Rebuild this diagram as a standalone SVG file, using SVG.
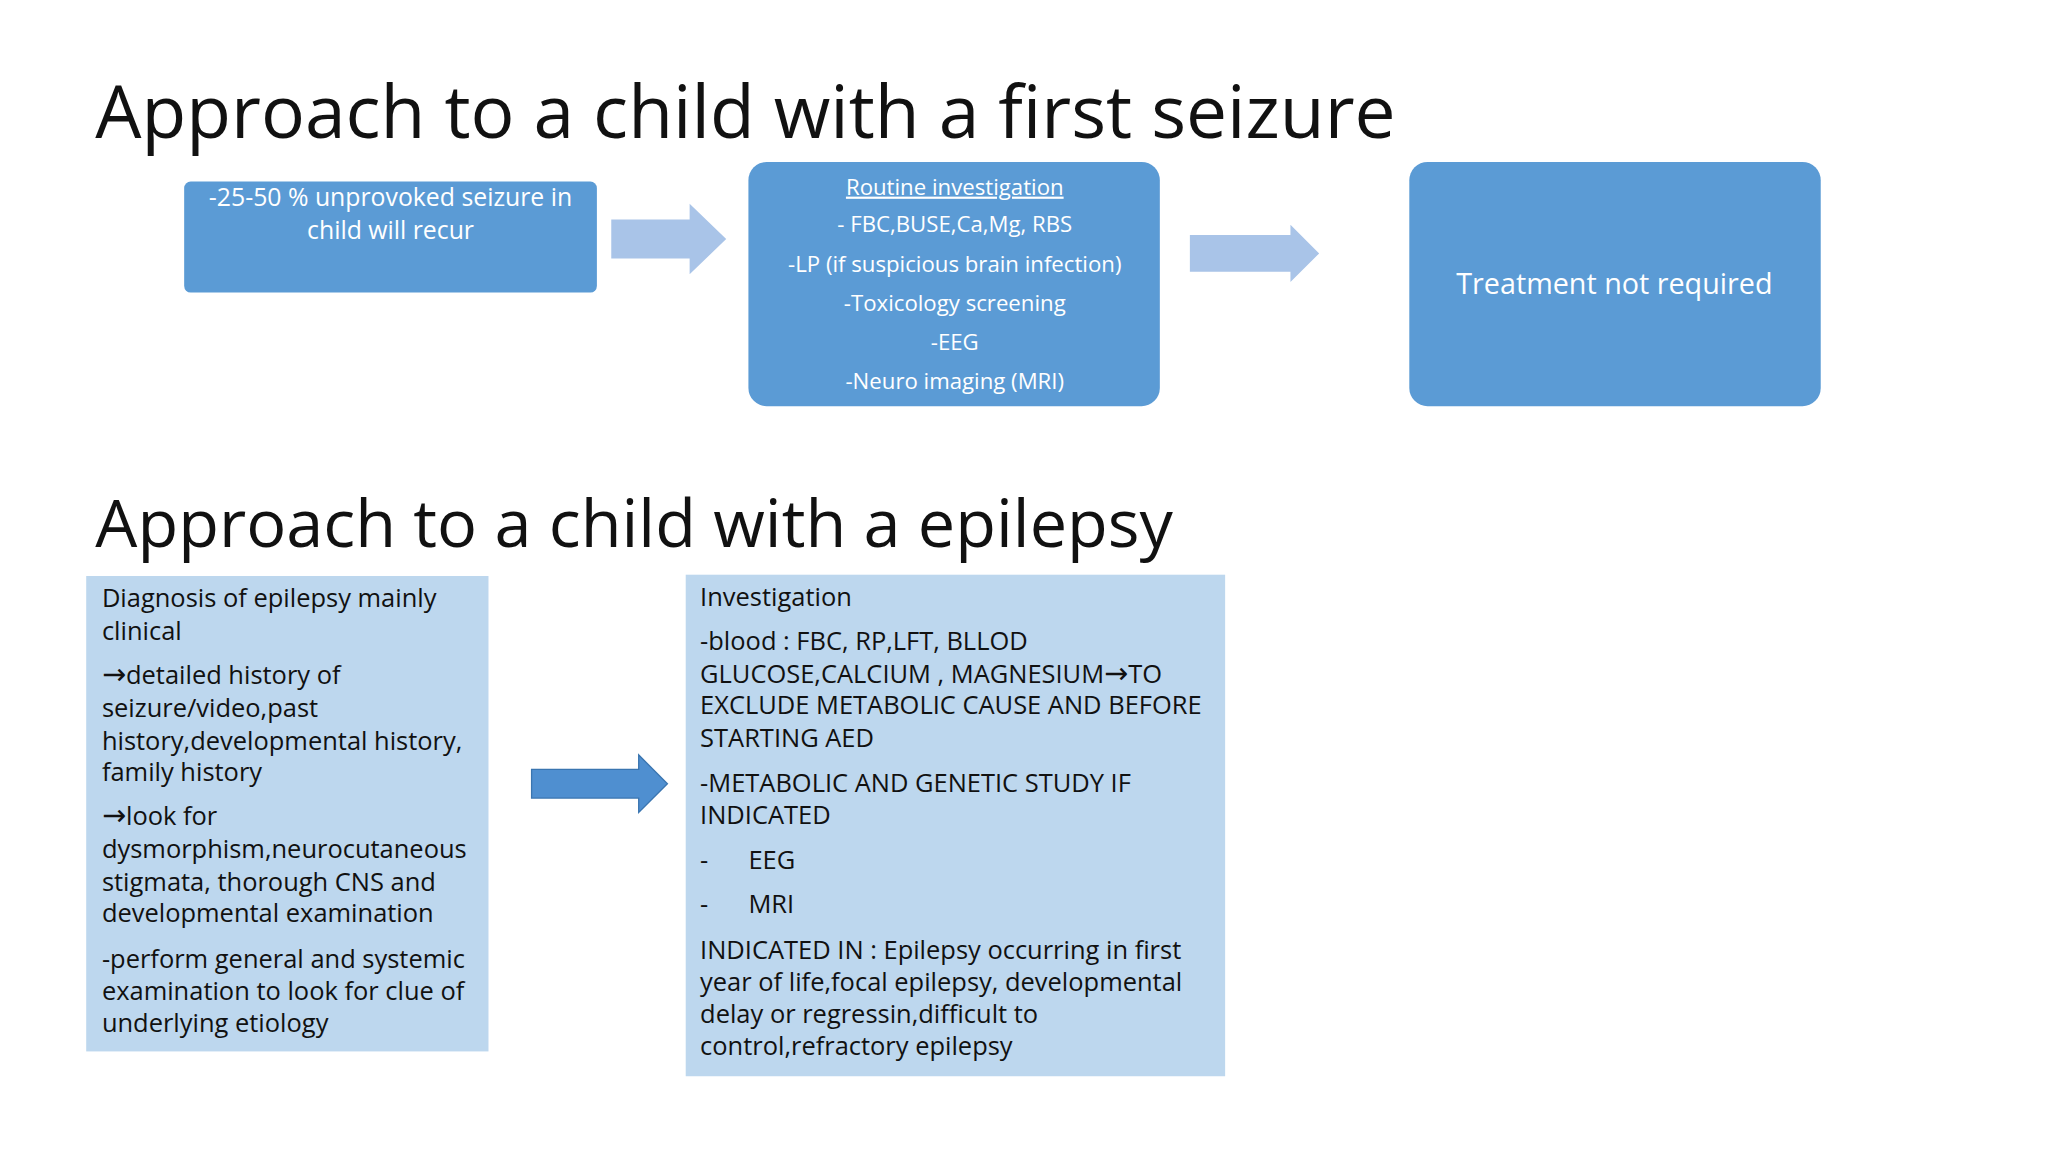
<svg xmlns="http://www.w3.org/2000/svg" width="2048" height="1152" viewBox="0 0 2048 1152">
<style>
.t{font-family:"Open Sans","Noto Sans",sans-serif}
.title{font-size:56px;fill:#111}
.w{fill:#fff;font-size:19px;text-anchor:middle}
.s{fill:#fff;font-size:17px;text-anchor:middle}
.b{fill:#111;font-size:19.5px}
.ar{font-family:"DejaVu Sans",sans-serif;font-size:22px}
.dark{fill:#5B9BD5}
.light{fill:#BDD7EE}
</style>
<rect width="2048" height="1152" fill="#fff"/>
<g transform="scale(1.30612)">
<text class="t title" x="73" y="106">Approach to a child with a first seizure</text>
<text class="t title" x="73" y="419" style="font-size:51px">Approach to a child with a epilepsy</text>
<g id="connectors">
<polygon points="468,168 528,168 528,156 556,183 528,210 528,198 468,198" fill="#A9C4E8"/>
<polygon points="911,180 988,180 988,172 1010,194 988,216 988,208 911,208" fill="#A9C4E8"/>
<polygon points="407,589 489,589 489,578 511,600 489,622 489,611 407,611" fill="#4F8FD0" stroke="#3A75B0" stroke-width="1"/>
</g>
<g id="n1">
<rect class="dark" x="141" y="139" width="316" height="85" rx="5"/>
<text class="t w" x="299" y="158">-25-50 % unprovoked seizure in</text>
<text class="t w" x="299" y="183">child will recur</text>
</g>
<g id="n2">
<rect class="dark" x="573" y="124" width="315" height="187" rx="14"/>
<text class="t s" x="731" y="149" text-decoration="underline">Routine investigation</text>
<text class="t s" x="731" y="178">- FBC,BUSE,Ca,Mg, RBS</text>
<text class="t s" x="731" y="208">-LP (if suspicious brain infection)</text>
<text class="t s" x="731" y="238">-Toxicology screening</text>
<text class="t s" x="731" y="268">-EEG</text>
<text class="t s" x="731" y="298">-Neuro imaging (MRI)</text>
</g>
<g id="n3">
<rect class="dark" x="1079" y="124" width="315" height="187" rx="14"/>
<text class="t w" x="1236" y="225" style="font-size:22px">Treatment not required</text>
</g>
<g id="n4">
<rect class="light" x="66" y="441" width="308" height="364"/>
<text class="t b" x="78" y="465">Diagnosis of epilepsy mainly</text>
<text class="t b" x="78" y="490">clinical</text>
<text class="t b" x="78" y="524"><tspan class="ar">→</tspan>detailed history of</text>
<text class="t b" x="78" y="549">seizure/video,past</text>
<text class="t b" x="78" y="574">history,developmental history,</text>
<text class="t b" x="78" y="598">family history</text>
<text class="t b" x="78" y="632"><tspan class="ar">→</tspan>look for</text>
<text class="t b" x="78" y="657">dysmorphism,neurocutaneous</text>
<text class="t b" x="78" y="682">stigmata, thorough CNS and</text>
<text class="t b" x="78" y="706">developmental examination</text>
<text class="t b" x="78" y="741">-perform general and systemic</text>
<text class="t b" x="78" y="766">examination to look for clue of</text>
<text class="t b" x="78" y="790">underlying etiology</text>
</g>
<g id="n5">
<rect class="light" x="525" y="440" width="413" height="384"/>
<text class="t b" x="536" y="464">Investigation</text>
<text class="t b" x="536" y="498">-blood : FBC, RP,LFT, BLLOD</text>
<text class="t b" x="536" y="523">GLUCOSE,CALCIUM , MAGNESIUM<tspan class="ar">→</tspan>TO</text>
<text class="t b" x="536" y="547">EXCLUDE METABOLIC CAUSE AND BEFORE</text>
<text class="t b" x="536" y="572">STARTING AED</text>
<text class="t b" x="536" y="606">-METABOLIC AND GENETIC STUDY IF</text>
<text class="t b" x="536" y="631">INDICATED</text>
<text class="t b" x="536" y="665">-</text><text class="t b" x="573" y="665">EEG</text>
<text class="t b" x="536" y="699">-</text><text class="t b" x="573" y="699">MRI</text>
<text class="t b" x="536" y="734">INDICATED IN : Epilepsy occurring in first</text>
<text class="t b" x="536" y="759">year of life,focal epilepsy, developmental</text>
<text class="t b" x="536" y="783">delay or regressin,difficult to</text>
<text class="t b" x="536" y="808">control,refractory epilepsy</text>
</g>
</g>
</svg>
